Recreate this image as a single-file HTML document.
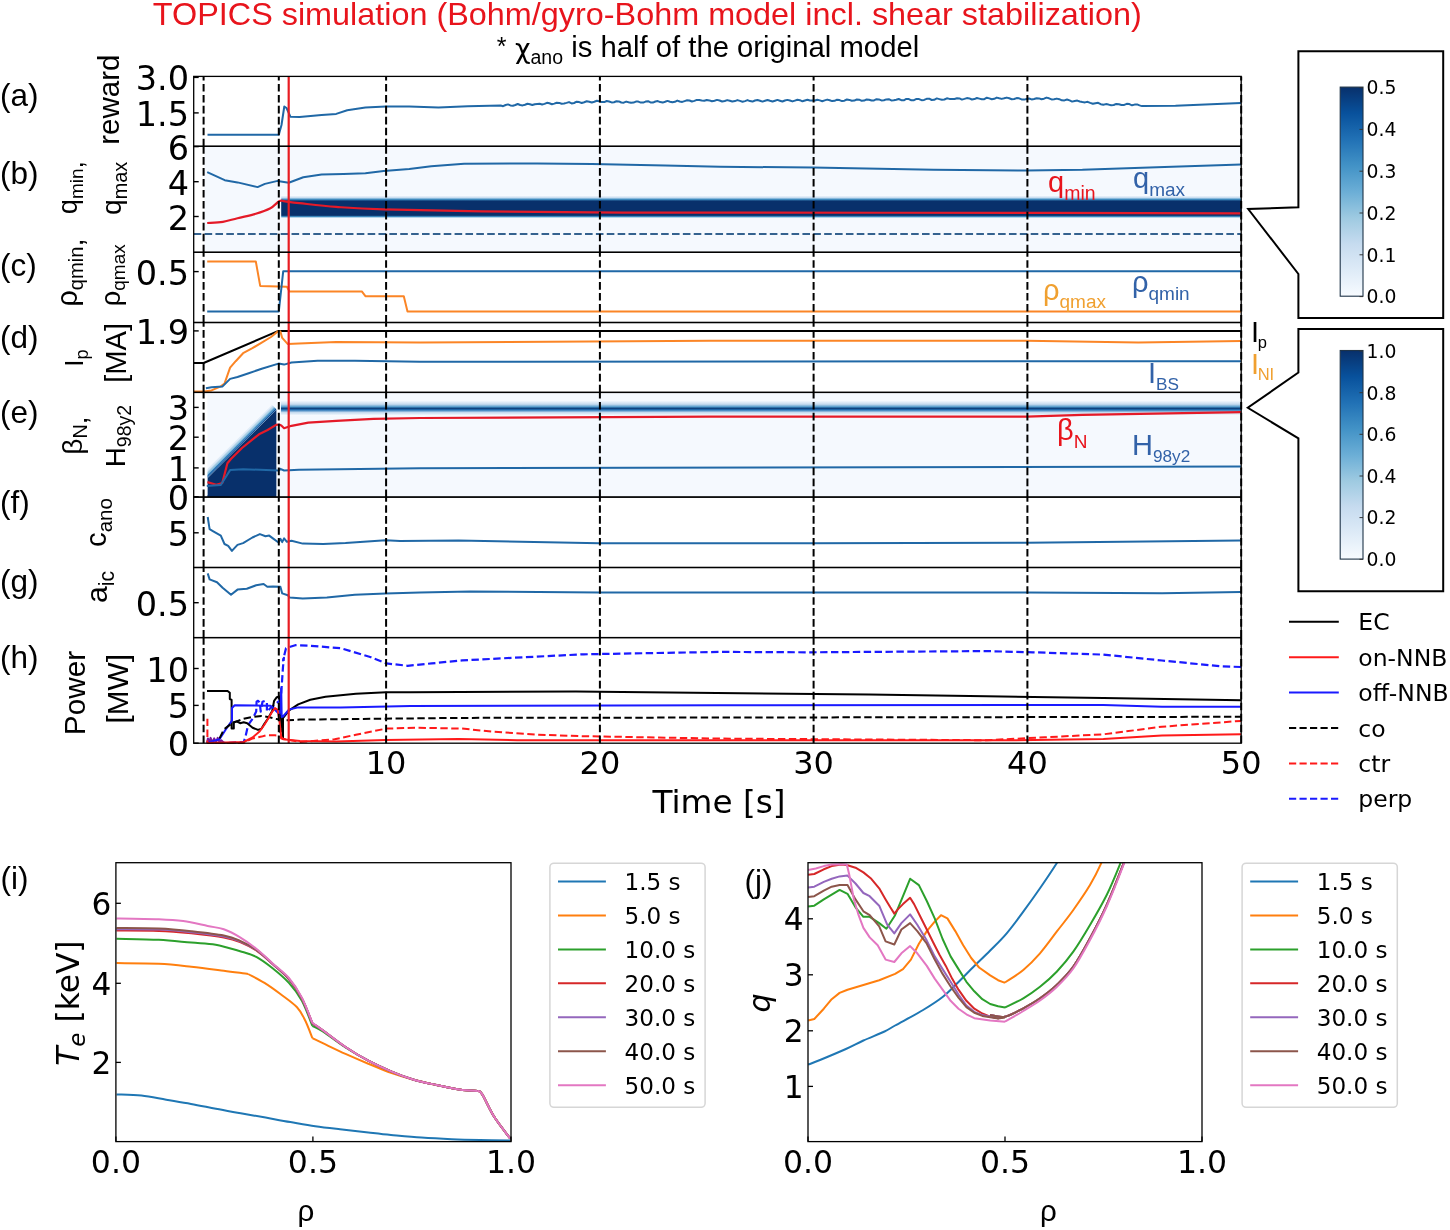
<!DOCTYPE html>
<html><head><meta charset="utf-8"><title>TOPICS simulation</title>
<style>html,body{margin:0;padding:0;background:#fff;width:1450px;height:1230px;overflow:hidden}svg{display:block}</style>
</head><body>
<svg width="1450" height="1230" viewBox="0 0 1450 1230"><defs>
<linearGradient id="cb" x1="0" y1="1" x2="0" y2="0"><stop offset="0.000" stop-color="#f7fbff"/><stop offset="0.125" stop-color="#deebf7"/><stop offset="0.250" stop-color="#c6dbef"/><stop offset="0.375" stop-color="#9ecae1"/><stop offset="0.500" stop-color="#6baed6"/><stop offset="0.625" stop-color="#4292c6"/><stop offset="0.750" stop-color="#2171b5"/><stop offset="0.875" stop-color="#08519c"/><stop offset="1.000" stop-color="#08306b"/></linearGradient>
<linearGradient id="bandb" x1="0" y1="0" x2="0" y2="1"><stop offset="0" stop-color="#f7fbff"/><stop offset="0.10" stop-color="#c6dbef"/><stop offset="0.17" stop-color="#4292c6"/><stop offset="0.25" stop-color="#08306b"/><stop offset="0.88" stop-color="#08306b"/><stop offset="0.94" stop-color="#4292c6"/><stop offset="1" stop-color="#f7fbff"/></linearGradient>
<linearGradient id="bande" x1="0" y1="0" x2="0" y2="1"><stop offset="0" stop-color="#f7fbff"/><stop offset="0.25" stop-color="#c6dbef"/><stop offset="0.45" stop-color="#4292c6"/><stop offset="0.5" stop-color="#08306b"/><stop offset="0.62" stop-color="#2171b5"/><stop offset="0.8" stop-color="#c6dbef"/><stop offset="1" stop-color="#f7fbff"/></linearGradient>
<clipPath id="main"><rect x="193.7" y="76" width="1047.5" height="668"/></clipPath>
</defs>
<rect x="204.4" y="146.3" width="1036.8" height="106.0" fill="#f5f9fe"/>
<rect x="204.4" y="392.4" width="1036.8" height="104.7" fill="#f5f9fe"/>
<rect x="281.2" y="195.5" width="960.0" height="22.5" fill="url(#bandb)"/>
<rect x="281.0" y="400.5" width="960.2" height="15" fill="url(#bande)"/>
<polygon points="207.4,497.1 207.4,478.3 276.6,409.6 276.6,497.1" fill="#08306b"/>
<line x1="206.77" y1="477.66" x2="275.97" y2="408.96" stroke="#08519c" stroke-width="1.2"/>
<line x1="205.99" y1="476.88" x2="275.19" y2="408.18" stroke="#2171b5" stroke-width="1.2"/>
<line x1="205.29" y1="476.17" x2="274.49" y2="407.47" stroke="#6baed6" stroke-width="1.2"/>
<line x1="204.58" y1="475.46" x2="273.78" y2="406.76" stroke="#9ecae1" stroke-width="1.2"/>
<line x1="203.88" y1="474.75" x2="273.08" y2="406.05" stroke="#c6dbef" stroke-width="1.2"/>
<line x1="203.17" y1="474.04" x2="272.37" y2="405.34" stroke="#deebf7" stroke-width="1.2"/>
<rect x="200" y="395" width="7.4" height="100" fill="#fff"/>
<rect x="276.6" y="395" width="2.4" height="102" fill="#fff"/>
<g clip-path="url(#main)">
<polyline points="207.5,134.7 278.8,134.7 281.5,125.0 284.3,106.5 286.5,108.0 290.5,116.8 299.6,117.1 321.6,115.0 336.2,113.9 347.2,110.2 365.4,107.6 385.9,106.5 409.3,106.5 438.5,107.6 467.8,106.2 500.7,105.5 503.1,106.2 505.6,105.0 508.0,104.4 510.4,105.4 512.9,105.8 515.3,105.0 517.7,104.0 520.2,105.0 522.6,105.4 525.0,104.7 527.5,103.7 529.9,104.2 532.3,105.0 534.8,104.2 537.2,104.0 539.6,103.8 542.1,104.5 544.5,103.9 547.0,102.8 549.4,103.3 551.9,104.2 554.3,103.6 556.7,102.7 559.2,102.9 561.6,103.8 564.1,103.5 566.5,102.9 569.0,102.1 571.6,103.4 574.1,103.0 576.6,101.7 579.2,102.1 581.7,103.0 584.2,102.2 586.7,101.3 589.3,101.7 591.8,102.5 594.3,101.7 596.9,100.7 599.4,101.4 601.8,102.1 604.3,102.1 606.7,101.0 609.1,101.5 611.6,102.4 614.0,102.2 616.4,101.3 618.9,101.4 621.3,102.5 623.7,102.7 626.2,101.6 628.6,102.2 631.0,102.7 633.5,102.6 635.9,101.6 638.3,101.6 640.8,102.6 643.2,102.6 645.6,101.6 648.1,101.2 650.5,102.4 652.9,102.6 655.4,101.5 657.8,101.1 660.2,102.1 662.7,102.6 665.1,101.8 667.5,100.9 670.0,101.7 672.4,102.3 674.9,101.8 677.3,100.6 679.7,101.5 682.2,101.9 684.6,101.1 687.1,100.3 689.5,100.5 691.9,101.5 694.4,100.9 696.8,99.9 699.3,100.0 701.7,100.5 704.3,100.8 706.8,100.0 709.4,100.4 711.9,101.3 714.5,100.7 717.0,99.9 719.6,100.5 722.1,101.5 724.7,101.0 727.2,100.1 729.8,100.7 732.3,101.5 734.9,101.1 737.4,100.1 740.0,100.9 742.5,101.7 745.0,101.1 747.5,100.1 750.0,101.1 752.5,101.6 755.0,100.5 757.5,100.0 760.0,100.7 762.5,101.6 765.0,100.8 767.5,100.0 770.0,100.8 772.5,101.5 775.0,100.7 777.4,99.9 779.9,100.7 782.4,101.5 784.9,100.5 787.4,99.9 789.9,100.5 792.4,101.4 794.9,100.6 797.4,99.8 799.9,100.2 802.4,101.3 804.9,100.5 807.4,99.8 809.9,100.5 812.4,100.5 814.9,100.5 817.3,99.7 819.8,100.4 822.3,101.2 824.7,100.4 827.2,99.6 829.7,100.3 832.1,101.1 834.6,100.8 837.0,99.7 839.5,100.1 842.0,101.1 844.4,100.7 846.9,99.5 849.4,99.9 851.8,100.8 854.3,100.6 856.8,99.5 859.2,99.7 861.7,100.8 864.2,100.6 866.6,99.4 869.1,99.7 871.6,100.5 874.0,100.4 876.5,99.2 878.9,99.4 881.4,100.4 883.9,100.3 886.3,99.4 888.8,99.2 891.3,100.4 893.7,100.3 896.2,99.8 898.7,99.0 901.3,100.2 903.8,100.3 906.3,98.9 908.9,99.1 911.4,100.3 914.0,100.2 916.5,98.9 919.0,99.1 921.6,100.2 924.1,99.9 926.6,98.8 929.2,98.7 931.7,100.0 934.2,99.8 936.8,98.4 939.3,99.1 941.9,99.8 944.4,99.5 946.9,98.3 949.5,98.9 952.0,99.0 954.5,99.0 957.0,98.2 959.5,98.4 961.9,99.6 964.4,98.9 966.9,98.1 969.4,98.4 971.9,99.5 974.4,99.1 976.9,98.0 979.3,98.6 981.8,99.2 984.3,99.2 986.8,97.7 989.3,98.4 991.8,99.3 994.3,98.8 996.7,97.6 999.2,98.3 1001.7,98.9 1004.2,98.3 1006.7,97.6 1009.2,98.3 1011.7,99.3 1014.2,99.0 1016.6,98.1 1019.1,98.3 1021.6,99.4 1024.1,99.6 1026.6,99.0 1029.1,98.5 1031.6,99.4 1034.1,99.0 1036.6,98.2 1039.0,98.4 1041.5,99.3 1044.0,98.7 1046.5,97.6 1049.0,98.3 1051.6,99.4 1054.1,99.2 1056.7,98.6 1059.3,99.2 1061.8,100.3 1064.4,100.4 1067.0,99.5 1069.6,100.4 1072.1,101.6 1074.7,101.0 1077.3,100.6 1079.8,101.5 1082.4,102.0 1085.0,102.4 1087.6,101.8 1090.2,102.9 1092.8,103.8 1095.5,103.2 1098.1,102.8 1100.7,104.2 1103.3,104.7 1105.9,104.1 1108.5,104.6 1111.1,105.2 1113.7,105.0 1116.3,103.9 1118.9,104.3 1121.5,105.0 1124.2,104.9 1126.8,103.8 1129.4,104.1 1132.0,105.3 1134.6,104.6 1137.1,104.4 1139.5,105.4 1142.0,106.1 1175.5,105.8 1241.0,103.1" fill="none" stroke="#2068a6" stroke-width="2.00" stroke-linejoin="round" />
<polyline points="207.2,172.2 224.7,180.2 237.5,182.4 257.6,187.1 264.9,183.9 277.7,180.9 288.7,182.8 303.3,177.3 321.6,174.4 343.5,174.0 365.4,173.3 383.7,171.1 409.3,168.9 431.2,166.3 464.1,163.8 537.2,163.4 592.0,164.1 665.1,165.6 720.0,166.7 812.4,167.6 933.5,169.8 1026.6,170.5 1082.4,169.8 1157.0,167.2 1241.0,164.6" fill="none" stroke="#2068a6" stroke-width="2.00" stroke-linejoin="round" />
<line x1="193.7" y1="234.0" x2="1241.2" y2="234.0" stroke="#34628f" stroke-width="2.00" stroke-dasharray="7.6,3.27"/>
<path d="M207.2,223.0 C209.8,222.8 217.8,222.7 222.9,221.9 C228.0,221.1 232.0,219.5 237.5,218.2 C243.0,216.8 250.3,215.5 255.8,213.8 C261.3,212.2 266.4,210.4 270.4,208.3 C274.3,206.2 277.1,202.2 279.5,201.0 C281.9,199.8 281.6,201.0 285.0,201.4 C288.4,201.8 291.1,202.3 299.6,203.2 C308.1,204.1 322.2,205.9 336.2,206.9 C350.2,207.9 359.3,208.7 383.7,209.4 C408.1,210.1 447.7,210.8 482.4,211.3 C517.1,211.8 552.4,212.2 592.0,212.4 C631.6,212.6 647.6,212.6 720.0,212.7 C792.4,212.8 939.8,212.7 1026.6,212.8 C1113.4,212.9 1205.3,213.3 1241.0,213.4" fill="none" stroke="#e41a28" stroke-width="2.20" stroke-linejoin="round" />
<polyline points="207.2,261.4 255.8,261.4 260.2,285.9 286.9,286.7 289.4,291.4 361.8,291.4 365.4,296.2 403.8,296.2 407.5,311.5 1241.0,311.5" fill="none" stroke="#fb8526" stroke-width="2.00" stroke-linejoin="round" />
<polyline points="207.2,311.5 278.8,311.5 283.2,271.3 1241.0,271.3" fill="none" stroke="#2068a6" stroke-width="2.00" stroke-linejoin="round" />
<polyline points="193.7,363.0 203.6,363.0 278.5,330.9 1241.0,330.9" fill="none" stroke="#000" stroke-width="2.00" stroke-linejoin="round" />
<polyline points="193.2,391.4 204.0,391.4 211.5,390.4 220.8,386.4 224.5,383.6 230.1,367.7 235.7,361.2 243.1,353.2 252.4,348.2 261.7,342.6 271.0,337.0 278.5,330.9 280.4,331.4 282.2,337.9 287.8,344.1 299.0,343.5 336.2,342.0 420.0,342.6 710.0,340.7 1026.6,340.7 1138.3,342.6 1241.0,341.1" fill="none" stroke="#fb8526" stroke-width="2.00" stroke-linejoin="round" />
<polyline points="205.9,388.2 211.5,387.3 222.6,386.4 230.1,378.9 237.5,377.0 248.7,373.3 261.7,368.7 278.5,363.6 284.1,364.6 291.5,362.5 317.6,360.8 354.8,360.8 420.0,361.8 1241.0,361.2" fill="none" stroke="#2068a6" stroke-width="2.00" stroke-linejoin="round" />
<polyline points="207.4,482.1 216.3,484.7 222.3,483.0 227.4,463.3 230.9,459.0 242.0,448.0 254.8,437.7 259.0,434.3 267.6,430.0 276.1,424.9 279.0,424.5 281.3,425.5 284.1,428.2 291.5,425.8 308.3,422.7 336.2,420.8 373.5,418.9 420.0,418.0 710.0,416.7 1026.6,416.7 1082.4,414.8 1241.0,412.2" fill="none" stroke="#e41a28" stroke-width="2.20" stroke-linejoin="round" />
<polyline points="206.8,486.0 220.8,485.0 230.1,470.1 243.1,469.2 278.5,470.5 280.4,468.8 284.1,470.5 299.0,469.8 420.0,468.3 1241.0,466.5" fill="none" stroke="#2068a6" stroke-width="2.00" stroke-linejoin="round" />
<polyline points="207.7,517.0 209.6,529.1 213.3,531.3 220.8,535.6 224.5,544.0 228.2,545.9 231.9,550.9 237.5,544.9 243.1,543.1 252.4,537.5 259.9,534.1 265.5,536.2 269.2,535.6 272.9,538.4 278.5,542.5 280.4,538.8 282.2,542.1 284.1,538.4 286.9,541.8 291.5,540.7 302.7,543.6 323.2,544.0 345.5,543.1 385.6,540.3 400.0,541.0 458.6,540.4 599.3,543.3 810.3,543.3 1027.2,542.8 1241.0,540.4" fill="none" stroke="#2068a6" stroke-width="2.00" stroke-linejoin="round" />
<polyline points="207.7,573.4 209.6,579.4 217.0,582.2 222.6,587.8 231.0,594.8 237.5,589.6 246.8,588.7 256.1,585.3 263.6,584.0 267.3,586.8 272.9,586.5 280.4,586.8 282.2,593.4 287.8,595.2 289.7,597.6 302.7,598.6 326.9,597.6 354.8,594.8 385.6,593.4 420.0,592.4 470.3,591.4 599.3,592.6 1027.2,592.6 1162.0,593.2 1241.0,592.0" fill="none" stroke="#2068a6" stroke-width="2.00" stroke-linejoin="round" />
<polyline points="207.0,742.9 207.9,738.4 209.2,742.0 210.6,737.9 212.4,742.4 214.2,738.4 215.9,742.9 217.7,737.9 219.5,742.0 221.3,740.2 224.0,742.9" fill="none" stroke="#7a1a9a" stroke-width="2.00" stroke-linejoin="round" />
<polyline points="207.0,742.9 225.8,742.9 243.7,742.0 245.5,736.6 248.1,725.0 252.6,718.7 256.2,711.6 256.6,701.7 258.0,700.8 259.8,702.6 260.7,711.6 262.5,701.7 265.1,700.8 266.9,702.6 266.9,711.6 270.5,708.0 275.0,704.4 279.4,700.8 281.2,693.7 283.0,666.8 283.9,657.9 283.0,660.4 286.0,648.2 295.2,645.2 310.3,645.8 340.7,648.2 371.0,657.3 386.2,663.4 407.5,665.8 431.7,663.4 462.0,660.4 522.8,657.3 583.5,654.3 720.0,651.9 810.3,652.3 986.2,651.1 1033.0,652.3 1103.4,654.6 1162.0,660.5 1220.6,666.3 1241.0,667.0" fill="none" stroke="#1a1aff" stroke-width="2.20" stroke-dasharray="7.4,3.5" stroke-linejoin="round" />
<polyline points="207.0,691.0 227.6,691.0 229.8,692.8 229.8,699.0 231.6,699.9 231.6,728.6 233.8,728.6 233.8,722.3 236.5,721.4 240.1,723.2 243.7,722.3 247.2,723.2 252.6,727.7 258.0,729.9 261.6,728.6 264.2,724.1 267.8,718.7 272.3,710.7 274.1,700.8 276.8,697.2 279.4,696.4 280.3,702.6 281.2,725.0 279.4,729.4 280.3,732.1 282.1,728.6 282.1,724.1 283.0,738.4 283.0,718.0 289.1,710.4 298.2,704.4 310.3,699.8 325.5,696.8 355.9,693.7 386.2,692.2 410.5,692.2 575.8,691.5 693.1,692.7 869.0,694.5 986.2,696.2 1103.4,698.0 1241.0,700.3" fill="none" stroke="#000" stroke-width="2.00" stroke-linejoin="round" />
<polyline points="207.0,742.9 219.5,739.3 225.8,729.4 232.0,720.5 232.0,708.0 234.7,705.3 270.5,705.7 273.2,708.0 279.4,714.2 280.8,702.6 281.2,688.3 281.7,716.9 283.0,716.5 289.1,709.5 298.2,707.4 340.7,707.4 410.5,705.9 720.0,705.3 1103.4,705.0 1162.0,706.8 1241.0,706.8" fill="none" stroke="#1a1aff" stroke-width="2.00" stroke-linejoin="round" />
<polyline points="219.5,738.4 224.0,729.4 228.5,725.9 232.0,723.2 243.7,718.7 252.6,716.9 261.6,716.0 267.8,716.9 275.0,718.7 279.4,719.6 283.9,720.5 300.0,719.6 458.6,717.9 1241.0,716.8" fill="none" stroke="#000" stroke-width="2.00" stroke-dasharray="7.4,3.5" stroke-linejoin="round" />
<polyline points="207.0,742.9 243.7,742.0 252.6,737.5 259.8,731.2 264.2,725.0 268.7,717.8 272.3,711.6 275.0,708.0 277.7,709.8 279.4,720.5 281.2,736.6 283.0,739.3 300.0,741.1 336.2,741.4 385.6,739.9 458.6,739.0 517.2,740.2 1015.5,740.2 1103.4,739.0 1162.0,735.5 1241.0,734.3" fill="none" stroke="#ff1a1a" stroke-width="2.00" stroke-linejoin="round" />
<polyline points="207.4,718.7 207.4,742.9 243.7,742.9 252.6,738.4 261.6,736.6 266.0,735.3 275.0,735.3 279.4,735.7 281.2,738.4 300.0,742.0 334.6,739.3 355.9,734.7 386.2,728.6 416.6,727.7 462.0,728.6 492.4,731.7 537.9,734.7 583.5,736.2 720.0,738.6 986.2,740.2 1044.8,737.3 1103.4,734.3 1162.0,726.7 1241.0,720.9" fill="none" stroke="#ff1a1a" stroke-width="2.00" stroke-dasharray="7.4,3.5" stroke-linejoin="round" />
</g>
<line x1="203.6" y1="146.3" x2="203.6" y2="76.4" stroke="#000" stroke-width="2.00" stroke-dasharray="7.6,3.35"/>
<line x1="203.6" y1="252.3" x2="203.6" y2="146.3" stroke="#000" stroke-width="2.00" stroke-dasharray="7.6,3.35"/>
<line x1="203.6" y1="322.5" x2="203.6" y2="252.3" stroke="#000" stroke-width="2.00" stroke-dasharray="7.6,3.35"/>
<line x1="203.6" y1="392.4" x2="203.6" y2="322.5" stroke="#000" stroke-width="2.00" stroke-dasharray="7.6,3.35"/>
<line x1="203.6" y1="497.1" x2="203.6" y2="392.4" stroke="#000" stroke-width="2.00" stroke-dasharray="7.6,3.35"/>
<line x1="203.6" y1="567.5" x2="203.6" y2="497.1" stroke="#000" stroke-width="2.00" stroke-dasharray="7.6,3.35"/>
<line x1="203.6" y1="637.6" x2="203.6" y2="567.5" stroke="#000" stroke-width="2.00" stroke-dasharray="7.6,3.35"/>
<line x1="203.6" y1="743.2" x2="203.6" y2="637.6" stroke="#000" stroke-width="2.00" stroke-dasharray="7.6,3.35"/>
<line x1="278.8" y1="146.3" x2="278.8" y2="76.4" stroke="#000" stroke-width="2.00" stroke-dasharray="7.6,3.35"/>
<line x1="278.8" y1="252.3" x2="278.8" y2="146.3" stroke="#000" stroke-width="2.00" stroke-dasharray="7.6,3.35"/>
<line x1="278.8" y1="322.5" x2="278.8" y2="252.3" stroke="#000" stroke-width="2.00" stroke-dasharray="7.6,3.35"/>
<line x1="278.8" y1="392.4" x2="278.8" y2="322.5" stroke="#000" stroke-width="2.00" stroke-dasharray="7.6,3.35"/>
<line x1="278.8" y1="497.1" x2="278.8" y2="392.4" stroke="#000" stroke-width="2.00" stroke-dasharray="7.6,3.35"/>
<line x1="278.8" y1="567.5" x2="278.8" y2="497.1" stroke="#000" stroke-width="2.00" stroke-dasharray="7.6,3.35"/>
<line x1="278.8" y1="637.6" x2="278.8" y2="567.5" stroke="#000" stroke-width="2.00" stroke-dasharray="7.6,3.35"/>
<line x1="278.8" y1="743.2" x2="278.8" y2="637.6" stroke="#000" stroke-width="2.00" stroke-dasharray="7.6,3.35"/>
<line x1="386.1" y1="146.3" x2="386.1" y2="76.4" stroke="#000" stroke-width="2.00" stroke-dasharray="7.6,3.35"/>
<line x1="386.1" y1="252.3" x2="386.1" y2="146.3" stroke="#000" stroke-width="2.00" stroke-dasharray="7.6,3.35"/>
<line x1="386.1" y1="322.5" x2="386.1" y2="252.3" stroke="#000" stroke-width="2.00" stroke-dasharray="7.6,3.35"/>
<line x1="386.1" y1="392.4" x2="386.1" y2="322.5" stroke="#000" stroke-width="2.00" stroke-dasharray="7.6,3.35"/>
<line x1="386.1" y1="497.1" x2="386.1" y2="392.4" stroke="#000" stroke-width="2.00" stroke-dasharray="7.6,3.35"/>
<line x1="386.1" y1="567.5" x2="386.1" y2="497.1" stroke="#000" stroke-width="2.00" stroke-dasharray="7.6,3.35"/>
<line x1="386.1" y1="637.6" x2="386.1" y2="567.5" stroke="#000" stroke-width="2.00" stroke-dasharray="7.6,3.35"/>
<line x1="386.1" y1="743.2" x2="386.1" y2="637.6" stroke="#000" stroke-width="2.00" stroke-dasharray="7.6,3.35"/>
<line x1="599.9" y1="146.3" x2="599.9" y2="76.4" stroke="#000" stroke-width="2.00" stroke-dasharray="7.6,3.35"/>
<line x1="599.9" y1="252.3" x2="599.9" y2="146.3" stroke="#000" stroke-width="2.00" stroke-dasharray="7.6,3.35"/>
<line x1="599.9" y1="322.5" x2="599.9" y2="252.3" stroke="#000" stroke-width="2.00" stroke-dasharray="7.6,3.35"/>
<line x1="599.9" y1="392.4" x2="599.9" y2="322.5" stroke="#000" stroke-width="2.00" stroke-dasharray="7.6,3.35"/>
<line x1="599.9" y1="497.1" x2="599.9" y2="392.4" stroke="#000" stroke-width="2.00" stroke-dasharray="7.6,3.35"/>
<line x1="599.9" y1="567.5" x2="599.9" y2="497.1" stroke="#000" stroke-width="2.00" stroke-dasharray="7.6,3.35"/>
<line x1="599.9" y1="637.6" x2="599.9" y2="567.5" stroke="#000" stroke-width="2.00" stroke-dasharray="7.6,3.35"/>
<line x1="599.9" y1="743.2" x2="599.9" y2="637.6" stroke="#000" stroke-width="2.00" stroke-dasharray="7.6,3.35"/>
<line x1="813.6" y1="146.3" x2="813.6" y2="76.4" stroke="#000" stroke-width="2.00" stroke-dasharray="7.6,3.35"/>
<line x1="813.6" y1="252.3" x2="813.6" y2="146.3" stroke="#000" stroke-width="2.00" stroke-dasharray="7.6,3.35"/>
<line x1="813.6" y1="322.5" x2="813.6" y2="252.3" stroke="#000" stroke-width="2.00" stroke-dasharray="7.6,3.35"/>
<line x1="813.6" y1="392.4" x2="813.6" y2="322.5" stroke="#000" stroke-width="2.00" stroke-dasharray="7.6,3.35"/>
<line x1="813.6" y1="497.1" x2="813.6" y2="392.4" stroke="#000" stroke-width="2.00" stroke-dasharray="7.6,3.35"/>
<line x1="813.6" y1="567.5" x2="813.6" y2="497.1" stroke="#000" stroke-width="2.00" stroke-dasharray="7.6,3.35"/>
<line x1="813.6" y1="637.6" x2="813.6" y2="567.5" stroke="#000" stroke-width="2.00" stroke-dasharray="7.6,3.35"/>
<line x1="813.6" y1="743.2" x2="813.6" y2="637.6" stroke="#000" stroke-width="2.00" stroke-dasharray="7.6,3.35"/>
<line x1="1027.4" y1="146.3" x2="1027.4" y2="76.4" stroke="#000" stroke-width="2.00" stroke-dasharray="7.6,3.35"/>
<line x1="1027.4" y1="252.3" x2="1027.4" y2="146.3" stroke="#000" stroke-width="2.00" stroke-dasharray="7.6,3.35"/>
<line x1="1027.4" y1="322.5" x2="1027.4" y2="252.3" stroke="#000" stroke-width="2.00" stroke-dasharray="7.6,3.35"/>
<line x1="1027.4" y1="392.4" x2="1027.4" y2="322.5" stroke="#000" stroke-width="2.00" stroke-dasharray="7.6,3.35"/>
<line x1="1027.4" y1="497.1" x2="1027.4" y2="392.4" stroke="#000" stroke-width="2.00" stroke-dasharray="7.6,3.35"/>
<line x1="1027.4" y1="567.5" x2="1027.4" y2="497.1" stroke="#000" stroke-width="2.00" stroke-dasharray="7.6,3.35"/>
<line x1="1027.4" y1="637.6" x2="1027.4" y2="567.5" stroke="#000" stroke-width="2.00" stroke-dasharray="7.6,3.35"/>
<line x1="1027.4" y1="743.2" x2="1027.4" y2="637.6" stroke="#000" stroke-width="2.00" stroke-dasharray="7.6,3.35"/>
<line x1="1241.2" y1="146.3" x2="1241.2" y2="76.4" stroke="#000" stroke-width="2.00" stroke-dasharray="7.6,3.35"/>
<line x1="1241.2" y1="252.3" x2="1241.2" y2="146.3" stroke="#000" stroke-width="2.00" stroke-dasharray="7.6,3.35"/>
<line x1="1241.2" y1="322.5" x2="1241.2" y2="252.3" stroke="#000" stroke-width="2.00" stroke-dasharray="7.6,3.35"/>
<line x1="1241.2" y1="392.4" x2="1241.2" y2="322.5" stroke="#000" stroke-width="2.00" stroke-dasharray="7.6,3.35"/>
<line x1="1241.2" y1="497.1" x2="1241.2" y2="392.4" stroke="#000" stroke-width="2.00" stroke-dasharray="7.6,3.35"/>
<line x1="1241.2" y1="567.5" x2="1241.2" y2="497.1" stroke="#000" stroke-width="2.00" stroke-dasharray="7.6,3.35"/>
<line x1="1241.2" y1="637.6" x2="1241.2" y2="567.5" stroke="#000" stroke-width="2.00" stroke-dasharray="7.6,3.35"/>
<line x1="1241.2" y1="743.2" x2="1241.2" y2="637.6" stroke="#000" stroke-width="2.00" stroke-dasharray="7.6,3.35"/>
<line x1="288.7" y1="76.4" x2="288.7" y2="743.2" stroke="#e81c22" stroke-width="2.20"/>
<rect x="193.7" y="76.4" width="1047.5" height="69.9" fill="none" stroke="#000" stroke-width="1.3"/>
<rect x="193.7" y="146.3" width="1047.5" height="106.0" fill="none" stroke="#000" stroke-width="1.3"/>
<rect x="193.7" y="252.3" width="1047.5" height="70.2" fill="none" stroke="#000" stroke-width="1.3"/>
<rect x="193.7" y="322.5" width="1047.5" height="69.9" fill="none" stroke="#000" stroke-width="1.3"/>
<rect x="193.7" y="392.4" width="1047.5" height="104.7" fill="none" stroke="#000" stroke-width="1.3"/>
<rect x="193.7" y="497.1" width="1047.5" height="70.4" fill="none" stroke="#000" stroke-width="1.3"/>
<rect x="193.7" y="567.5" width="1047.5" height="70.1" fill="none" stroke="#000" stroke-width="1.3"/>
<rect x="193.7" y="637.6" width="1047.5" height="105.6" fill="none" stroke="#000" stroke-width="1.3"/>
<line x1="193.7" y1="77.4" x2="198.7" y2="77.4" stroke="#000" stroke-width="1.40"/>
<text x="189.0" y="90.4" font-family="'DejaVu Sans', sans-serif" font-size="33.5" text-anchor="end" fill="#000" >3.0</text>
<line x1="193.7" y1="112.9" x2="198.7" y2="112.9" stroke="#000" stroke-width="1.40"/>
<text x="189.0" y="125.9" font-family="'DejaVu Sans', sans-serif" font-size="33.5" text-anchor="end" fill="#000" >1.5</text>
<line x1="193.7" y1="146.6" x2="198.7" y2="146.6" stroke="#000" stroke-width="1.40"/>
<text x="189.0" y="159.6" font-family="'DejaVu Sans', sans-serif" font-size="33.5" text-anchor="end" fill="#000" >6</text>
<line x1="193.7" y1="181.7" x2="198.7" y2="181.7" stroke="#000" stroke-width="1.40"/>
<text x="189.0" y="194.7" font-family="'DejaVu Sans', sans-serif" font-size="33.5" text-anchor="end" fill="#000" >4</text>
<line x1="193.7" y1="216.5" x2="198.7" y2="216.5" stroke="#000" stroke-width="1.40"/>
<text x="189.0" y="229.5" font-family="'DejaVu Sans', sans-serif" font-size="33.5" text-anchor="end" fill="#000" >2</text>
<line x1="193.7" y1="271.6" x2="198.7" y2="271.6" stroke="#000" stroke-width="1.40"/>
<text x="189.0" y="284.6" font-family="'DejaVu Sans', sans-serif" font-size="33.5" text-anchor="end" fill="#000" >0.5</text>
<line x1="193.7" y1="330.9" x2="198.7" y2="330.9" stroke="#000" stroke-width="1.40"/>
<text x="189.0" y="343.9" font-family="'DejaVu Sans', sans-serif" font-size="33.5" text-anchor="end" fill="#000" >1.9</text>
<line x1="193.7" y1="407.4" x2="198.7" y2="407.4" stroke="#000" stroke-width="1.40"/>
<text x="189.0" y="420.4" font-family="'DejaVu Sans', sans-serif" font-size="33.5" text-anchor="end" fill="#000" >3</text>
<line x1="193.7" y1="437.2" x2="198.7" y2="437.2" stroke="#000" stroke-width="1.40"/>
<text x="189.0" y="450.2" font-family="'DejaVu Sans', sans-serif" font-size="33.5" text-anchor="end" fill="#000" >2</text>
<line x1="193.7" y1="467.9" x2="198.7" y2="467.9" stroke="#000" stroke-width="1.40"/>
<text x="189.0" y="480.9" font-family="'DejaVu Sans', sans-serif" font-size="33.5" text-anchor="end" fill="#000" >1</text>
<line x1="193.7" y1="496.8" x2="198.7" y2="496.8" stroke="#000" stroke-width="1.40"/>
<text x="189.0" y="509.8" font-family="'DejaVu Sans', sans-serif" font-size="33.5" text-anchor="end" fill="#000" >0</text>
<line x1="193.7" y1="532.8" x2="198.7" y2="532.8" stroke="#000" stroke-width="1.40"/>
<text x="189.0" y="545.8" font-family="'DejaVu Sans', sans-serif" font-size="33.5" text-anchor="end" fill="#000" >5</text>
<line x1="193.7" y1="602.7" x2="198.7" y2="602.7" stroke="#000" stroke-width="1.40"/>
<text x="189.0" y="615.7" font-family="'DejaVu Sans', sans-serif" font-size="33.5" text-anchor="end" fill="#000" >0.5</text>
<line x1="193.7" y1="668.5" x2="198.7" y2="668.5" stroke="#000" stroke-width="1.40"/>
<text x="189.0" y="681.5" font-family="'DejaVu Sans', sans-serif" font-size="33.5" text-anchor="end" fill="#000" >10</text>
<line x1="193.7" y1="705.4" x2="198.7" y2="705.4" stroke="#000" stroke-width="1.40"/>
<text x="189.0" y="718.4" font-family="'DejaVu Sans', sans-serif" font-size="33.5" text-anchor="end" fill="#000" >5</text>
<line x1="193.7" y1="743.2" x2="198.7" y2="743.2" stroke="#000" stroke-width="1.40"/>
<text x="189.0" y="756.2" font-family="'DejaVu Sans', sans-serif" font-size="33.5" text-anchor="end" fill="#000" >0</text>
<text x="386.1" y="773.6" font-family="'DejaVu Sans', sans-serif" font-size="32.0" text-anchor="middle" fill="#000" >10</text>
<text x="599.9" y="773.6" font-family="'DejaVu Sans', sans-serif" font-size="32.0" text-anchor="middle" fill="#000" >20</text>
<text x="813.6" y="773.6" font-family="'DejaVu Sans', sans-serif" font-size="32.0" text-anchor="middle" fill="#000" >30</text>
<text x="1027.4" y="773.6" font-family="'DejaVu Sans', sans-serif" font-size="32.0" text-anchor="middle" fill="#000" >40</text>
<text x="1241.2" y="773.6" font-family="'DejaVu Sans', sans-serif" font-size="32.0" text-anchor="middle" fill="#000" >50</text>
<text x="719.0" y="812.5" font-family="'DejaVu Sans', sans-serif" font-size="32.7" text-anchor="middle" fill="#000" >Time [s]</text>
<text x="152.8" y="24.8" font-family="'Liberation Sans', Arial, sans-serif" font-size="32.0" text-anchor="start" fill="#e8141c" textLength="989" lengthAdjust="spacingAndGlyphs">TOPICS simulation (Bohm/gyro-Bohm model incl. shear stabilization)</text>
<text x="496.8" y="55.0" font-family="'Liberation Sans', Arial, sans-serif" font-size="25.0" text-anchor="start" fill="#000" >*</text>
<text x="515.0" y="57.6" font-family="'DejaVu Sans', sans-serif" font-size="27.0" text-anchor="start" fill="#000" >&#967;</text>
<text x="530.5" y="64.0" font-family="'Liberation Sans', Arial, sans-serif" font-size="19.5" text-anchor="start" fill="#000" >ano</text>
<text x="571.2" y="57.1" font-family="'Liberation Sans', Arial, sans-serif" font-size="29.0" text-anchor="start" fill="#000" textLength="348" lengthAdjust="spacingAndGlyphs">is half of the original model</text>
<text x="0.0" y="106.1" font-family="'Liberation Sans', Arial, sans-serif" font-size="31.5" text-anchor="start" fill="#000" >(a)</text>
<text x="0.0" y="183.6" font-family="'Liberation Sans', Arial, sans-serif" font-size="31.5" text-anchor="start" fill="#000" >(b)</text>
<text x="0.0" y="275.6" font-family="'Liberation Sans', Arial, sans-serif" font-size="31.5" text-anchor="start" fill="#000" >(c)</text>
<text x="0.0" y="347.5" font-family="'Liberation Sans', Arial, sans-serif" font-size="31.5" text-anchor="start" fill="#000" >(d)</text>
<text x="0.0" y="423.0" font-family="'Liberation Sans', Arial, sans-serif" font-size="31.5" text-anchor="start" fill="#000" >(e)</text>
<text x="0.0" y="512.7" font-family="'Liberation Sans', Arial, sans-serif" font-size="31.5" text-anchor="start" fill="#000" >(f)</text>
<text x="0.0" y="592.1" font-family="'Liberation Sans', Arial, sans-serif" font-size="31.5" text-anchor="start" fill="#000" >(g)</text>
<text x="0.0" y="668.3" font-family="'Liberation Sans', Arial, sans-serif" font-size="31.5" text-anchor="start" fill="#000" >(h)</text>
<text x="0" y="0" font-family="'Liberation Sans', Arial, sans-serif" font-size="29.54" text-anchor="middle" transform="translate(118.70 99.65) rotate(-90)">reward</text>
<text x="0" y="0" font-family="'Liberation Sans', Arial, sans-serif" font-size="27.18" text-anchor="middle" transform="translate(77.41 187.57) rotate(-90)">q<tspan font-size="19.03" dy="5.44">min</tspan><tspan>,</tspan></text>
<text x="0" y="0" font-family="'Liberation Sans', Arial, sans-serif" font-size="28.33" text-anchor="middle" transform="translate(121.20 188.50) rotate(-90)">q<tspan font-size="19.83" dy="5.67">max</tspan></text>
<text x="0" y="0" font-family="'Liberation Sans', Arial, sans-serif" font-size="28.81" text-anchor="middle" transform="translate(77.12 272.50) rotate(-90)">&#961;<tspan font-size="20.17" dy="5.76">qmin</tspan><tspan>,</tspan></text>
<text x="0" y="0" font-family="'Liberation Sans', Arial, sans-serif" font-size="27.23" text-anchor="middle" transform="translate(120.03 275.23) rotate(-90)">&#961;<tspan font-size="19.06" dy="5.45">qmax</tspan></text>
<text x="0" y="0" font-family="'Liberation Sans', Arial, sans-serif" font-size="25.93" text-anchor="middle" transform="translate(82.52 358.04) rotate(-90)">I<tspan font-size="18.15" dy="5.19">p</tspan></text>
<text x="0" y="0" font-family="'Liberation Sans', Arial, sans-serif" font-size="29.19" text-anchor="middle" transform="translate(126.40 352.85) rotate(-90)">[MA]</text>
<text x="0" y="0" font-family="'Liberation Sans', Arial, sans-serif" font-size="28.25" text-anchor="middle" transform="translate(81.55 435.55) rotate(-90)">&#946;<tspan font-size="19.77" dy="5.65">N</tspan><tspan>,</tspan></text>
<text x="0" y="0" font-family="'Liberation Sans', Arial, sans-serif" font-size="27.91" text-anchor="middle" transform="translate(125.14 436.09) rotate(-90)">H<tspan font-size="19.54" dy="5.58">98y2</tspan></text>
<text x="0" y="0" font-family="'Liberation Sans', Arial, sans-serif" font-size="29.49" text-anchor="middle" transform="translate(106.34 522.53) rotate(-90)">c<tspan font-size="20.64" dy="5.90">ano</tspan></text>
<text x="0" y="0" font-family="'Liberation Sans', Arial, sans-serif" font-size="30.21" text-anchor="middle" transform="translate(107.46 587.01) rotate(-90)">a<tspan font-size="21.15" dy="6.04">ic</tspan></text>
<text x="0" y="0" font-family="'Liberation Sans', Arial, sans-serif" font-size="29.78" text-anchor="middle" transform="translate(84.50 692.99) rotate(-90)">Power</text>
<text x="0" y="0" font-family="'Liberation Sans', Arial, sans-serif" font-size="29.81" text-anchor="middle" transform="translate(127.96 688.80) rotate(-90)">[MW]</text>
<text x="1048.0" y="192.0" font-family="'Liberation Sans', Arial, sans-serif" font-size="29.0" fill="#e8141c">q<tspan font-size="19.5" dx="0.0" dy="7.5">min</tspan></text>
<text x="1133.0" y="188.2" font-family="'Liberation Sans', Arial, sans-serif" font-size="29.0" fill="#3262a8">q<tspan font-size="19.0" dx="0.0" dy="7.5">max</tspan></text>
<text x="1043.0" y="300.0" font-family="'Liberation Sans', Arial, sans-serif" font-size="29.0" fill="#f0a030">&#961;<tspan font-size="19.0" dx="0.0" dy="7.5">qmax</tspan></text>
<text x="1132.0" y="292.0" font-family="'Liberation Sans', Arial, sans-serif" font-size="29.0" fill="#3262a8">&#961;<tspan font-size="19.0" dx="0.0" dy="7.5">qmin</tspan></text>
<text x="1148.0" y="383.0" font-family="'Liberation Sans', Arial, sans-serif" font-size="29.0" fill="#3262a8">I<tspan font-size="17.2" dx="0.0" dy="7.0">BS</tspan></text>
<text x="1057.0" y="440.0" font-family="'Liberation Sans', Arial, sans-serif" font-size="29.0" fill="#e8141c">&#946;<tspan font-size="19.0" dx="0.0" dy="7.5">N</tspan></text>
<text x="1132.0" y="455.0" font-family="'Liberation Sans', Arial, sans-serif" font-size="29.0" fill="#3262a8">H<tspan font-size="17.2" dx="0.0" dy="7.0">98y2</tspan></text>
<text x="1251.0" y="342.0" font-family="'Liberation Sans', Arial, sans-serif" font-size="29.0" fill="#000">I<tspan font-size="16.5" dx="-1.4" dy="6.0">p</tspan></text>
<text x="1251.0" y="374.0" font-family="'Liberation Sans', Arial, sans-serif" font-size="29.0" fill="#f0a030">I<tspan font-size="16.5" dx="-1.4" dy="6.0">NI</tspan></text>
<path d="M1298.4,51.3 H1443.2 V318 H1298.4 V274 L1248.2,209 L1298.4,207.3 Z" fill="#fff" stroke="#000" stroke-width="2"/>
<path d="M1298.4,328.9 H1443.2 V591.2 H1298.4 V438.4 L1247.8,407.8 L1298.4,372.5 Z" fill="#fff" stroke="#000" stroke-width="2"/>
<rect x="1340.2" y="87.1" width="22.8" height="209.1" fill="url(#cb)" stroke="#1e3348" stroke-width="1.1"/>
<rect x="1340.2" y="350.5" width="22.8" height="208.6" fill="url(#cb)" stroke="#1e3348" stroke-width="1.1"/>
<line x1="1363.0" y1="87.6" x2="1359.5" y2="87.6" stroke="#333" stroke-width="1.00"/>
<text x="1366.5" y="94.4" font-family="'DejaVu Sans', sans-serif" font-size="18.8" text-anchor="start" fill="#000" >0.5</text>
<line x1="1363.0" y1="129.4" x2="1359.5" y2="129.4" stroke="#333" stroke-width="1.00"/>
<text x="1366.5" y="136.2" font-family="'DejaVu Sans', sans-serif" font-size="18.8" text-anchor="start" fill="#000" >0.4</text>
<line x1="1363.0" y1="171.2" x2="1359.5" y2="171.2" stroke="#333" stroke-width="1.00"/>
<text x="1366.5" y="178.0" font-family="'DejaVu Sans', sans-serif" font-size="18.8" text-anchor="start" fill="#000" >0.3</text>
<line x1="1363.0" y1="213.0" x2="1359.5" y2="213.0" stroke="#333" stroke-width="1.00"/>
<text x="1366.5" y="219.8" font-family="'DejaVu Sans', sans-serif" font-size="18.8" text-anchor="start" fill="#000" >0.2</text>
<line x1="1363.0" y1="254.8" x2="1359.5" y2="254.8" stroke="#333" stroke-width="1.00"/>
<text x="1366.5" y="261.6" font-family="'DejaVu Sans', sans-serif" font-size="18.8" text-anchor="start" fill="#000" >0.1</text>
<line x1="1363.0" y1="296.6" x2="1359.5" y2="296.6" stroke="#333" stroke-width="1.00"/>
<text x="1366.5" y="303.4" font-family="'DejaVu Sans', sans-serif" font-size="18.8" text-anchor="start" fill="#000" >0.0</text>
<line x1="1363.0" y1="351.0" x2="1359.5" y2="351.0" stroke="#333" stroke-width="1.00"/>
<text x="1366.5" y="357.8" font-family="'DejaVu Sans', sans-serif" font-size="18.8" text-anchor="start" fill="#000" >1.0</text>
<line x1="1363.0" y1="392.7" x2="1359.5" y2="392.7" stroke="#333" stroke-width="1.00"/>
<text x="1366.5" y="399.5" font-family="'DejaVu Sans', sans-serif" font-size="18.8" text-anchor="start" fill="#000" >0.8</text>
<line x1="1363.0" y1="434.3" x2="1359.5" y2="434.3" stroke="#333" stroke-width="1.00"/>
<text x="1366.5" y="441.1" font-family="'DejaVu Sans', sans-serif" font-size="18.8" text-anchor="start" fill="#000" >0.6</text>
<line x1="1363.0" y1="476.0" x2="1359.5" y2="476.0" stroke="#333" stroke-width="1.00"/>
<text x="1366.5" y="482.8" font-family="'DejaVu Sans', sans-serif" font-size="18.8" text-anchor="start" fill="#000" >0.4</text>
<line x1="1363.0" y1="517.6" x2="1359.5" y2="517.6" stroke="#333" stroke-width="1.00"/>
<text x="1366.5" y="524.4" font-family="'DejaVu Sans', sans-serif" font-size="18.8" text-anchor="start" fill="#000" >0.2</text>
<line x1="1363.0" y1="559.3" x2="1359.5" y2="559.3" stroke="#333" stroke-width="1.00"/>
<text x="1366.5" y="566.1" font-family="'DejaVu Sans', sans-serif" font-size="18.8" text-anchor="start" fill="#000" >0.0</text>
<line x1="1289.0" y1="621.8" x2="1338.8" y2="621.8" stroke="#000" stroke-width="2.00"/>
<text x="1358.3" y="630.3" font-family="'DejaVu Sans', sans-serif" font-size="23.5" text-anchor="start" fill="#000" >EC</text>
<line x1="1289.0" y1="657.2" x2="1338.8" y2="657.2" stroke="#ff1a1a" stroke-width="2.00"/>
<text x="1358.3" y="665.7" font-family="'DejaVu Sans', sans-serif" font-size="23.5" text-anchor="start" fill="#000" >on-NNB</text>
<line x1="1289.0" y1="692.6" x2="1338.8" y2="692.6" stroke="#1a1aff" stroke-width="2.00"/>
<text x="1358.3" y="701.1" font-family="'DejaVu Sans', sans-serif" font-size="23.5" text-anchor="start" fill="#000" >off-NNB</text>
<line x1="1289.0" y1="728.0" x2="1338.8" y2="728.0" stroke="#000" stroke-width="2.00" stroke-dasharray="7.2,3.3"/>
<text x="1358.3" y="736.5" font-family="'DejaVu Sans', sans-serif" font-size="23.5" text-anchor="start" fill="#000" >co</text>
<line x1="1289.0" y1="763.4" x2="1338.8" y2="763.4" stroke="#ff1a1a" stroke-width="2.00" stroke-dasharray="7.2,3.3"/>
<text x="1358.3" y="771.9" font-family="'DejaVu Sans', sans-serif" font-size="23.5" text-anchor="start" fill="#000" >ctr</text>
<line x1="1289.0" y1="798.8" x2="1338.8" y2="798.8" stroke="#1a1aff" stroke-width="2.00" stroke-dasharray="7.2,3.3"/>
<text x="1358.3" y="807.3" font-family="'DejaVu Sans', sans-serif" font-size="23.5" text-anchor="start" fill="#000" >perp</text>
<rect x="549.9" y="863.2" width="155.2" height="244.1" rx="4" fill="#fff" stroke="#d6d6d6" stroke-width="1.5"/>
<line x1="558.0" y1="881.4" x2="605.9" y2="881.4" stroke="#1f77b4" stroke-width="2.00"/>
<text x="624.5" y="889.6" font-family="'DejaVu Sans', sans-serif" font-size="23.1" text-anchor="start" fill="#000" >1.5 s</text>
<line x1="558.0" y1="915.4" x2="605.9" y2="915.4" stroke="#ff7f0e" stroke-width="2.00"/>
<text x="624.5" y="923.6" font-family="'DejaVu Sans', sans-serif" font-size="23.1" text-anchor="start" fill="#000" >5.0 s</text>
<line x1="558.0" y1="949.4" x2="605.9" y2="949.4" stroke="#2ca02c" stroke-width="2.00"/>
<text x="624.5" y="957.6" font-family="'DejaVu Sans', sans-serif" font-size="23.1" text-anchor="start" fill="#000" >10.0 s</text>
<line x1="558.0" y1="983.3" x2="605.9" y2="983.3" stroke="#d62728" stroke-width="2.00"/>
<text x="624.5" y="991.5" font-family="'DejaVu Sans', sans-serif" font-size="23.1" text-anchor="start" fill="#000" >20.0 s</text>
<line x1="558.0" y1="1017.3" x2="605.9" y2="1017.3" stroke="#9467bd" stroke-width="2.00"/>
<text x="624.5" y="1025.5" font-family="'DejaVu Sans', sans-serif" font-size="23.1" text-anchor="start" fill="#000" >30.0 s</text>
<line x1="558.0" y1="1051.3" x2="605.9" y2="1051.3" stroke="#8c564b" stroke-width="2.00"/>
<text x="624.5" y="1059.5" font-family="'DejaVu Sans', sans-serif" font-size="23.1" text-anchor="start" fill="#000" >40.0 s</text>
<line x1="558.0" y1="1085.3" x2="605.9" y2="1085.3" stroke="#e377c2" stroke-width="2.00"/>
<text x="624.5" y="1093.5" font-family="'DejaVu Sans', sans-serif" font-size="23.1" text-anchor="start" fill="#000" >50.0 s</text>
<rect x="1242.1" y="863.2" width="155.2" height="244.1" rx="4" fill="#fff" stroke="#d6d6d6" stroke-width="1.5"/>
<line x1="1250.2" y1="881.4" x2="1298.1" y2="881.4" stroke="#1f77b4" stroke-width="2.00"/>
<text x="1316.7" y="889.6" font-family="'DejaVu Sans', sans-serif" font-size="23.1" text-anchor="start" fill="#000" >1.5 s</text>
<line x1="1250.2" y1="915.4" x2="1298.1" y2="915.4" stroke="#ff7f0e" stroke-width="2.00"/>
<text x="1316.7" y="923.6" font-family="'DejaVu Sans', sans-serif" font-size="23.1" text-anchor="start" fill="#000" >5.0 s</text>
<line x1="1250.2" y1="949.4" x2="1298.1" y2="949.4" stroke="#2ca02c" stroke-width="2.00"/>
<text x="1316.7" y="957.6" font-family="'DejaVu Sans', sans-serif" font-size="23.1" text-anchor="start" fill="#000" >10.0 s</text>
<line x1="1250.2" y1="983.3" x2="1298.1" y2="983.3" stroke="#d62728" stroke-width="2.00"/>
<text x="1316.7" y="991.5" font-family="'DejaVu Sans', sans-serif" font-size="23.1" text-anchor="start" fill="#000" >20.0 s</text>
<line x1="1250.2" y1="1017.3" x2="1298.1" y2="1017.3" stroke="#9467bd" stroke-width="2.00"/>
<text x="1316.7" y="1025.5" font-family="'DejaVu Sans', sans-serif" font-size="23.1" text-anchor="start" fill="#000" >30.0 s</text>
<line x1="1250.2" y1="1051.3" x2="1298.1" y2="1051.3" stroke="#8c564b" stroke-width="2.00"/>
<text x="1316.7" y="1059.5" font-family="'DejaVu Sans', sans-serif" font-size="23.1" text-anchor="start" fill="#000" >40.0 s</text>
<line x1="1250.2" y1="1085.3" x2="1298.1" y2="1085.3" stroke="#e377c2" stroke-width="2.00"/>
<text x="1316.7" y="1093.5" font-family="'DejaVu Sans', sans-serif" font-size="23.1" text-anchor="start" fill="#000" >50.0 s</text>
<path d="M116.6,1094.4 C120.7,1094.6 133.1,1094.7 141.4,1095.6 C149.7,1096.5 157.9,1098.3 166.2,1099.7 C174.5,1101.1 182.7,1102.4 191.0,1103.9 C199.3,1105.4 207.6,1107.2 215.9,1108.8 C224.2,1110.4 232.4,1111.8 240.7,1113.3 C249.0,1114.8 257.3,1116.1 265.6,1117.6 C273.9,1119.1 282.1,1120.7 290.4,1122.1 C298.7,1123.5 306.9,1125.0 315.2,1126.2 C323.5,1127.4 331.1,1128.2 340.0,1129.2 C348.9,1130.2 359.8,1131.5 368.3,1132.5 C376.8,1133.5 382.1,1134.2 391.0,1135.0 C399.9,1135.8 411.3,1136.9 421.4,1137.6 C431.5,1138.3 441.9,1138.8 451.7,1139.2 C461.5,1139.6 470.2,1139.8 480.0,1140.0 C489.8,1140.2 505.2,1140.3 510.2,1140.4" fill="none" stroke="#1f77b4" stroke-width="2.00" stroke-linejoin="round" />
<path d="M116.5,963.1 C123.5,963.2 146.3,963.1 158.8,963.7 C171.3,964.3 180.5,965.5 191.3,966.7 C202.1,967.9 214.3,969.5 223.8,970.7 C233.3,971.9 244.1,973.5 248.2,974.0" fill="none" stroke="#ff7f0e" stroke-width="2.00" stroke-linejoin="round" />
<path d="M248.2,974.0 C250.9,975.5 259.1,979.5 264.5,982.9 C269.9,986.3 275.3,990.2 280.7,994.3 C286.1,998.4 292.9,1003.0 297.0,1007.3 C301.1,1011.6 302.5,1015.1 305.1,1020.3 C307.7,1025.5 311.2,1035.2 312.4,1038.2" fill="none" stroke="#ff7f0e" stroke-width="2.00" stroke-linejoin="round" />
<path d="M312.4,1038.2 C314.1,1039.0 317.3,1040.6 322.8,1043.2 C328.3,1045.8 337.9,1050.5 345.5,1053.9 C353.1,1057.3 360.7,1060.6 368.3,1063.7 C375.9,1066.8 383.4,1070.1 391.0,1072.8 C398.6,1075.5 406.2,1077.7 413.8,1079.7 C421.4,1081.7 429.0,1083.4 436.6,1085.0 C444.2,1086.6 452.5,1088.5 459.3,1089.5 C466.1,1090.5 474.5,1090.8 477.5,1091.0" fill="none" stroke="#ff7f0e" stroke-width="2.00" stroke-linejoin="round" />
<path d="M477.5,1091.0 C478.3,1091.5 479.3,1089.8 482.1,1094.1 C484.9,1098.4 489.5,1109.4 494.2,1116.8 C498.9,1124.2 507.5,1134.9 510.2,1138.5" fill="none" stroke="#ff7f0e" stroke-width="2.00" stroke-linejoin="round" />
<path d="M116.5,938.7 C123.5,938.9 146.3,939.1 158.8,939.8 C171.3,940.4 181.8,941.8 191.3,942.6 C200.8,943.4 207.6,943.3 215.7,944.7 C223.8,946.1 233.3,949.2 240.1,951.2 C246.9,953.2 250.9,954.0 256.3,956.9 C261.7,959.8 267.2,964.0 272.6,968.3 C278.0,972.6 284.0,977.5 288.9,982.9 C293.8,988.3 298.0,993.6 301.9,1000.8 C305.8,1007.9 310.6,1021.6 312.4,1025.8" fill="none" stroke="#2ca02c" stroke-width="2.00" stroke-linejoin="round" />
<path d="M312.4,1025.8 C314.1,1026.8 317.3,1027.9 322.8,1031.5 C328.3,1035.1 337.9,1042.6 345.5,1047.5 C353.1,1052.4 360.7,1056.7 368.3,1060.7 C375.9,1064.7 383.4,1068.1 391.0,1071.3 C398.6,1074.5 406.2,1077.4 413.8,1079.7 C421.4,1082.0 429.0,1083.4 436.6,1085.0 C444.2,1086.6 452.5,1088.5 459.3,1089.5 C466.1,1090.5 474.5,1090.8 477.5,1091.0" fill="none" stroke="#2ca02c" stroke-width="2.00" stroke-linejoin="round" />
<path d="M477.5,1091.0 C478.3,1091.5 479.3,1089.8 482.1,1094.1 C484.9,1098.4 489.5,1109.4 494.2,1116.8 C498.9,1124.2 507.5,1134.9 510.2,1138.5" fill="none" stroke="#2ca02c" stroke-width="2.00" stroke-linejoin="round" />
<path d="M116.5,930.6 C123.5,930.6 146.3,930.5 158.8,930.9 C171.3,931.3 180.5,932.2 191.3,933.3 C202.1,934.4 215.7,935.9 223.8,937.4 C231.9,938.9 234.7,939.8 240.1,942.0 C245.5,944.2 250.9,946.7 256.3,950.4 C261.7,954.1 267.2,959.2 272.6,964.0 C278.0,968.8 284.0,973.2 288.9,979.0 C293.8,984.8 298.0,991.1 301.9,998.5 C305.8,1005.9 310.6,1019.3 312.4,1023.5" fill="none" stroke="#d62728" stroke-width="2.00" stroke-linejoin="round" />
<path d="M312.4,1023.5 C314.1,1024.6 317.3,1026.4 322.8,1030.3 C328.3,1034.2 337.9,1041.9 345.5,1047.0 C353.1,1052.1 360.7,1056.7 368.3,1060.7 C375.9,1064.8 383.4,1068.1 391.0,1071.3 C398.6,1074.5 406.2,1077.4 413.8,1079.7 C421.4,1082.0 429.0,1083.4 436.6,1085.0 C444.2,1086.6 452.5,1088.5 459.3,1089.5 C466.1,1090.5 474.5,1090.8 477.5,1091.0" fill="none" stroke="#d62728" stroke-width="2.00" stroke-linejoin="round" />
<path d="M477.5,1091.0 C478.3,1091.5 479.3,1089.8 482.1,1094.1 C484.9,1098.4 489.5,1109.4 494.2,1116.8 C498.9,1124.2 507.5,1134.9 510.2,1138.5" fill="none" stroke="#d62728" stroke-width="2.00" stroke-linejoin="round" />
<path d="M116.5,929.2 C123.5,929.3 146.3,929.1 158.8,929.6 C171.3,930.1 180.5,931.1 191.3,932.2 C202.1,933.3 215.7,934.9 223.8,936.4 C231.9,937.9 234.7,939.0 240.1,941.3 C245.5,943.6 250.9,946.2 256.3,950.0 C261.7,953.8 267.2,959.2 272.6,964.0 C278.0,968.8 284.0,973.2 288.9,979.0 C293.8,984.8 298.0,991.1 301.9,998.5 C305.8,1005.9 310.6,1019.3 312.4,1023.5" fill="none" stroke="#9467bd" stroke-width="2.00" stroke-linejoin="round" />
<path d="M312.4,1023.5 C314.1,1024.6 317.3,1026.4 322.8,1030.3 C328.3,1034.2 337.9,1041.9 345.5,1047.0 C353.1,1052.1 360.7,1056.7 368.3,1060.7 C375.9,1064.8 383.4,1068.1 391.0,1071.3 C398.6,1074.5 406.2,1077.4 413.8,1079.7 C421.4,1082.0 429.0,1083.4 436.6,1085.0 C444.2,1086.6 452.5,1088.5 459.3,1089.5 C466.1,1090.5 474.5,1090.8 477.5,1091.0" fill="none" stroke="#9467bd" stroke-width="2.00" stroke-linejoin="round" />
<path d="M477.5,1091.0 C478.3,1091.5 479.3,1089.8 482.1,1094.1 C484.9,1098.4 489.5,1109.4 494.2,1116.8 C498.9,1124.2 507.5,1134.9 510.2,1138.5" fill="none" stroke="#9467bd" stroke-width="2.00" stroke-linejoin="round" />
<path d="M116.5,928.0 C123.5,928.1 146.3,928.1 158.8,928.6 C171.3,929.1 180.5,930.1 191.3,931.3 C202.1,932.5 215.7,934.0 223.8,935.6 C231.9,937.2 234.7,938.5 240.1,940.8 C245.5,943.1 250.9,945.8 256.3,949.6 C261.7,953.4 267.2,958.9 272.6,963.8 C278.0,968.7 284.0,973.2 288.9,979.0 C293.8,984.8 298.0,991.1 301.9,998.5 C305.8,1005.9 310.6,1019.3 312.4,1023.5" fill="none" stroke="#8c564b" stroke-width="2.00" stroke-linejoin="round" />
<path d="M312.4,1023.5 C314.1,1024.6 317.3,1026.4 322.8,1030.3 C328.3,1034.2 337.9,1041.9 345.5,1047.0 C353.1,1052.1 360.7,1056.7 368.3,1060.7 C375.9,1064.8 383.4,1068.1 391.0,1071.3 C398.6,1074.5 406.2,1077.4 413.8,1079.7 C421.4,1082.0 429.0,1083.4 436.6,1085.0 C444.2,1086.6 452.5,1088.5 459.3,1089.5 C466.1,1090.5 474.5,1090.8 477.5,1091.0" fill="none" stroke="#8c564b" stroke-width="2.00" stroke-linejoin="round" />
<path d="M477.5,1091.0 C478.3,1091.5 479.3,1089.8 482.1,1094.1 C484.9,1098.4 489.5,1109.4 494.2,1116.8 C498.9,1124.2 507.5,1134.9 510.2,1138.5" fill="none" stroke="#8c564b" stroke-width="2.00" stroke-linejoin="round" />
<path d="M116.5,918.4 C123.5,918.5 147.7,918.8 158.8,919.2 C169.9,919.7 175.1,920.0 183.2,921.1 C191.3,922.2 200.8,924.6 207.6,926.0 C214.4,927.4 218.4,927.4 223.8,929.3 C229.2,931.2 234.7,934.1 240.1,937.4 C245.5,940.6 250.9,944.5 256.3,948.8 C261.7,953.1 267.2,958.5 272.6,963.4 C278.0,968.3 284.0,972.3 288.9,978.0 C293.8,983.7 298.0,990.1 301.9,997.6 C305.8,1005.1 310.6,1018.6 312.4,1022.8" fill="none" stroke="#e377c2" stroke-width="2.00" stroke-linejoin="round" />
<path d="M312.4,1022.8 C314.1,1024.0 317.3,1026.3 322.8,1030.3 C328.3,1034.3 337.9,1041.9 345.5,1047.0 C353.1,1052.1 360.7,1056.7 368.3,1060.7 C375.9,1064.8 383.4,1068.1 391.0,1071.3 C398.6,1074.5 406.2,1077.4 413.8,1079.7 C421.4,1082.0 429.0,1083.4 436.6,1085.0 C444.2,1086.6 452.5,1088.5 459.3,1089.5 C466.1,1090.5 474.5,1090.8 477.5,1091.0" fill="none" stroke="#e377c2" stroke-width="2.00" stroke-linejoin="round" />
<path d="M477.5,1091.0 C478.3,1091.5 479.3,1089.8 482.1,1094.1 C484.9,1098.4 489.5,1109.4 494.2,1116.8 C498.9,1124.2 507.5,1134.9 510.2,1138.5" fill="none" stroke="#e377c2" stroke-width="2.00" stroke-linejoin="round" />
<rect x="115.9" y="862.7" width="395.1" height="278.9" fill="none" stroke="#000" stroke-width="1.3"/>
<line x1="115.9" y1="903.3" x2="120.9" y2="903.3" stroke="#000" stroke-width="1.30"/>
<text x="111.4" y="914.9" font-family="'DejaVu Sans', sans-serif" font-size="31.2" text-anchor="end" fill="#000" >6</text>
<line x1="115.9" y1="983.3" x2="120.9" y2="983.3" stroke="#000" stroke-width="1.30"/>
<text x="111.4" y="994.9" font-family="'DejaVu Sans', sans-serif" font-size="31.2" text-anchor="end" fill="#000" >4</text>
<line x1="115.9" y1="1062.4" x2="120.9" y2="1062.4" stroke="#000" stroke-width="1.30"/>
<text x="111.4" y="1074.0" font-family="'DejaVu Sans', sans-serif" font-size="31.2" text-anchor="end" fill="#000" >2</text>
<line x1="115.9" y1="1141.6" x2="115.9" y2="1136.6" stroke="#000" stroke-width="1.30"/>
<text x="115.9" y="1172.5" font-family="'DejaVu Sans', sans-serif" font-size="31.5" text-anchor="middle" fill="#000" >0.0</text>
<line x1="312.9" y1="1141.6" x2="312.9" y2="1136.6" stroke="#000" stroke-width="1.30"/>
<text x="312.9" y="1172.5" font-family="'DejaVu Sans', sans-serif" font-size="31.5" text-anchor="middle" fill="#000" >0.5</text>
<line x1="511.0" y1="1141.6" x2="511.0" y2="1136.6" stroke="#000" stroke-width="1.30"/>
<text x="511.0" y="1172.5" font-family="'DejaVu Sans', sans-serif" font-size="31.5" text-anchor="middle" fill="#000" >1.0</text>
<text x="0.5" y="888.6" font-family="'Liberation Sans', Arial, sans-serif" font-size="31.5" text-anchor="start" fill="#000" >(i)</text>
<text x="0" y="0" font-family="'DejaVu Sans', sans-serif" font-size="31.3" text-anchor="middle" transform="translate(78.5 1003.1) rotate(-90)"><tspan font-style="italic">T</tspan><tspan font-style="italic" font-size="23" dy="6">e</tspan><tspan dy="-6"> [keV]</tspan></text>
<text x="305.8" y="1221.4" font-family="'Liberation Sans', Arial, sans-serif" font-size="29.5" text-anchor="middle" fill="#000" >&#961;</text>
<clipPath id="jc"><rect x="808.0" y="862.7" width="394.0" height="278.9"/></clipPath>
<g clip-path="url(#jc)">
<path d="M808.2,1064.6 C810.2,1063.8 813.7,1062.6 820.0,1060.0 C826.3,1057.4 838.7,1052.2 845.9,1049.0 C853.1,1045.8 857.0,1043.4 863.4,1040.5 C869.8,1037.6 879.2,1034.0 884.5,1031.5 C889.8,1029.0 888.7,1029.1 895.1,1025.5 C901.5,1021.9 915.2,1014.8 923.1,1010.0 C931.0,1005.2 936.7,1001.7 942.6,997.0 C948.5,992.3 953.2,987.2 958.5,982.0 C963.8,976.8 969.0,971.2 974.3,966.0 C979.6,960.8 984.8,956.0 990.2,950.5 C995.6,945.0 1001.2,939.8 1006.7,933.3 C1012.2,926.8 1017.8,919.2 1023.3,911.7 C1028.8,904.2 1034.4,896.4 1040.0,888.3 C1045.6,880.2 1053.7,868.0 1056.7,863.3 C1059.7,858.6 1057.8,860.5 1058.0,860.0" fill="none" stroke="#1f77b4" stroke-width="2.00" stroke-linejoin="round" />
<polyline points="808.2,1020.6 814.3,1019.0 823.8,1008.7 831.7,999.2 839.6,992.9 847.5,989.7 863.4,985.0 879.2,980.2 895.1,973.9 903.0,969.1 910.9,959.6 918.9,943.7 926.8,931.1 934.7,921.6 941.0,915.2 947.4,918.4 955.3,931.1 963.2,945.3 971.2,958.0 979.1,967.5 990.2,975.4 998.1,980.2 1004.4,982.6 1005.0,982.5" fill="none" stroke="#ff7f0e" stroke-width="2.00" stroke-linejoin="round" />
<path d="M1005.0,982.5 C1008.0,980.4 1017.5,974.9 1023.3,970.0 C1029.1,965.1 1034.4,959.7 1040.0,953.3 C1045.6,946.9 1051.2,938.9 1056.7,931.7 C1062.2,924.5 1067.8,917.8 1073.3,910.0 C1078.8,902.2 1085.4,892.6 1090.0,885.0 C1094.6,877.4 1098.8,868.7 1100.8,864.2 C1102.8,859.7 1101.8,859.0 1102.0,858.0" fill="none" stroke="#ff7f0e" stroke-width="2.00" stroke-linejoin="round" />
<polyline points="808.2,906.5 814.3,905.7 823.8,899.4 831.7,894.6 839.6,889.9 847.5,893.8 855.5,907.3 863.4,916.8 869.7,916.8 879.2,923.1 886.4,928.7 895.1,915.2 903.0,896.2 910.1,878.8 918.9,885.1 926.8,901.0 934.7,918.4 942.6,939.0 950.6,956.4 958.5,969.1 966.4,981.8 974.3,991.3 982.3,999.2 990.2,1004.0 998.1,1006.3 1005.0,1007.5" fill="none" stroke="#2ca02c" stroke-width="2.00" stroke-linejoin="round" />
<path d="M1005.0,1007.5 C1008.0,1006.0 1017.5,1001.8 1023.3,998.3 C1029.1,994.8 1034.4,991.1 1040.0,986.7 C1045.6,982.3 1051.2,977.5 1056.7,971.7 C1062.2,965.9 1067.8,959.5 1073.3,951.7 C1078.8,943.9 1084.4,934.5 1090.0,925.0 C1095.6,915.5 1101.7,905.1 1106.7,895.0 C1111.7,884.9 1117.5,870.4 1120.0,864.2 C1122.5,858.0 1121.7,859.0 1122.0,858.0" fill="none" stroke="#2ca02c" stroke-width="2.00" stroke-linejoin="round" />
<polyline points="808.2,874.8 814.3,874.0 823.8,869.3 831.7,866.1 841.2,864.5 847.5,865.3 855.5,867.7 863.4,872.4 871.3,878.8 879.2,888.3 885.6,899.4 890.3,907.3 894.3,913.6 898.3,908.9 903.0,904.1 910.1,897.8 914.1,904.1 920.4,916.8 926.8,929.5 933.1,942.2 939.5,954.8 945.8,965.9 952.1,978.6 958.5,989.7 966.4,1000.8 974.3,1008.7 982.3,1013.5 990.2,1016.6 998.1,1018.2 1005.0,1016.7" fill="none" stroke="#d62728" stroke-width="2.00" stroke-linejoin="round" />
<path d="M990.0,1015.0 C992.5,1015.3 999.5,1017.8 1005.0,1016.7 C1010.5,1015.6 1017.5,1011.4 1023.3,1008.3 C1029.1,1005.2 1034.4,1002.2 1040.0,998.3 C1045.6,994.4 1051.2,990.3 1056.7,985.0 C1062.2,979.7 1067.8,974.5 1073.3,966.7 C1078.8,958.9 1084.4,948.6 1090.0,938.3 C1095.6,928.0 1101.2,917.4 1106.7,905.0 C1112.2,892.6 1120.1,872.5 1123.3,864.2 C1126.5,855.9 1125.5,856.5 1126.0,855.0" fill="none" stroke="#d62728" stroke-width="2.00" stroke-linejoin="round" />
<polyline points="808.2,887.5 814.3,886.7 823.8,881.9 831.7,878.8 839.6,876.4 847.5,875.6 855.5,883.5 863.4,893.0 869.7,896.2 879.2,905.7 887.2,924.7 894.3,933.4 901.4,923.1 910.1,914.4 917.3,924.7 926.8,940.6 934.7,956.4 942.6,969.1 950.6,981.8 958.5,994.5 966.4,1005.6 974.3,1011.9 982.3,1015.1 998.1,1018.2 1005.0,1016.7" fill="none" stroke="#9467bd" stroke-width="2.00" stroke-linejoin="round" />
<path d="M990.0,1015.0 C992.5,1015.3 999.5,1017.8 1005.0,1016.7 C1010.5,1015.6 1017.5,1011.4 1023.3,1008.3 C1029.1,1005.2 1034.4,1002.2 1040.0,998.3 C1045.6,994.4 1051.2,990.3 1056.7,985.0 C1062.2,979.7 1067.8,974.5 1073.3,966.7 C1078.8,958.9 1084.4,948.6 1090.0,938.3 C1095.6,928.0 1101.2,917.4 1106.7,905.0 C1112.2,892.6 1120.1,872.5 1123.3,864.2 C1126.5,855.9 1125.5,856.5 1126.0,855.0" fill="none" stroke="#9467bd" stroke-width="2.00" stroke-linejoin="round" />
<polyline points="808.2,897.0 814.3,896.2 823.8,890.7 831.7,886.7 839.6,885.1 847.5,885.1 855.5,899.4 863.4,911.3 869.7,915.2 879.2,926.3 885.6,941.4 894.3,944.5 901.4,929.5 910.1,923.1 917.3,931.1 926.8,943.7 934.7,959.6 942.6,973.9 950.6,986.5 958.5,997.6 966.4,1007.1 974.3,1012.7 982.3,1015.9 998.1,1018.5 1005.0,1017.5" fill="none" stroke="#8c564b" stroke-width="2.00" stroke-linejoin="round" />
<path d="M990.0,1015.0 C992.5,1015.3 999.5,1017.8 1005.0,1016.7 C1010.5,1015.6 1017.5,1011.4 1023.3,1008.3 C1029.1,1005.2 1034.4,1002.2 1040.0,998.3 C1045.6,994.4 1051.2,990.3 1056.7,985.0 C1062.2,979.7 1067.8,974.5 1073.3,966.7 C1078.8,958.9 1084.4,948.6 1090.0,938.3 C1095.6,928.0 1101.2,917.4 1106.7,905.0 C1112.2,892.6 1120.1,872.5 1123.3,864.2 C1126.5,855.9 1125.5,856.5 1126.0,855.0" fill="none" stroke="#8c564b" stroke-width="2.00" stroke-linejoin="round" />
<polyline points="808.2,870.1 815.8,868.5 823.8,866.1 831.7,864.5 839.6,864.2 846.8,864.5 849.1,874.0 853.9,899.4 858.6,915.2 863.4,927.9 869.7,937.4 877.7,945.3 885.6,959.6 894.3,962.0 901.4,953.3 910.1,946.1 917.3,953.3 926.8,965.9 934.7,978.6 942.6,989.7 950.6,1000.8 958.5,1008.7 966.4,1014.3 974.3,1018.2 990.2,1020.6 1005.0,1021.7" fill="none" stroke="#e377c2" stroke-width="2.00" stroke-linejoin="round" />
<path d="M1005.0,1021.7 C1008.0,1019.9 1017.5,1014.5 1023.3,1011.0 C1029.1,1007.5 1034.4,1004.5 1040.0,1000.5 C1045.6,996.5 1051.2,992.3 1056.7,987.0 C1062.2,981.7 1067.8,976.3 1073.3,968.5 C1078.8,960.7 1084.4,950.3 1090.0,940.0 C1095.6,929.7 1101.2,918.9 1106.7,906.5 C1112.2,894.1 1120.1,873.9 1123.3,865.5 C1126.5,857.1 1125.5,857.6 1126.0,856.0" fill="none" stroke="#e377c2" stroke-width="2.00" stroke-linejoin="round" />
</g>
<rect x="808.0" y="862.7" width="394.0" height="278.9" fill="none" stroke="#000" stroke-width="1.3"/>
<line x1="808.0" y1="918.8" x2="813.0" y2="918.8" stroke="#000" stroke-width="1.30"/>
<text x="803.5" y="930.4" font-family="'DejaVu Sans', sans-serif" font-size="31.2" text-anchor="end" fill="#000" >4</text>
<line x1="808.0" y1="974.8" x2="813.0" y2="974.8" stroke="#000" stroke-width="1.30"/>
<text x="803.5" y="986.4" font-family="'DejaVu Sans', sans-serif" font-size="31.2" text-anchor="end" fill="#000" >3</text>
<line x1="808.0" y1="1030.8" x2="813.0" y2="1030.8" stroke="#000" stroke-width="1.30"/>
<text x="803.5" y="1042.4" font-family="'DejaVu Sans', sans-serif" font-size="31.2" text-anchor="end" fill="#000" >2</text>
<line x1="808.0" y1="1086.4" x2="813.0" y2="1086.4" stroke="#000" stroke-width="1.30"/>
<text x="803.5" y="1098.0" font-family="'DejaVu Sans', sans-serif" font-size="31.2" text-anchor="end" fill="#000" >1</text>
<line x1="808.0" y1="1141.6" x2="808.0" y2="1136.6" stroke="#000" stroke-width="1.30"/>
<text x="808.0" y="1172.5" font-family="'DejaVu Sans', sans-serif" font-size="31.5" text-anchor="middle" fill="#000" >0.0</text>
<line x1="1005.0" y1="1141.6" x2="1005.0" y2="1136.6" stroke="#000" stroke-width="1.30"/>
<text x="1005.0" y="1172.5" font-family="'DejaVu Sans', sans-serif" font-size="31.5" text-anchor="middle" fill="#000" >0.5</text>
<line x1="1202.0" y1="1141.6" x2="1202.0" y2="1136.6" stroke="#000" stroke-width="1.30"/>
<text x="1202.0" y="1172.5" font-family="'DejaVu Sans', sans-serif" font-size="31.5" text-anchor="middle" fill="#000" >1.0</text>
<text x="744.5" y="891.5" font-family="'Liberation Sans', Arial, sans-serif" font-size="31.5" text-anchor="start" fill="#000" >(j)</text>
<text x="0" y="0" font-family="'DejaVu Sans', sans-serif" font-size="30" font-style="italic" text-anchor="middle" transform="translate(770 1003) rotate(-90)">q</text>
<text x="1048.5" y="1221.4" font-family="'Liberation Sans', Arial, sans-serif" font-size="29.5" text-anchor="middle" fill="#000" >&#961;</text></svg>
</body></html>
